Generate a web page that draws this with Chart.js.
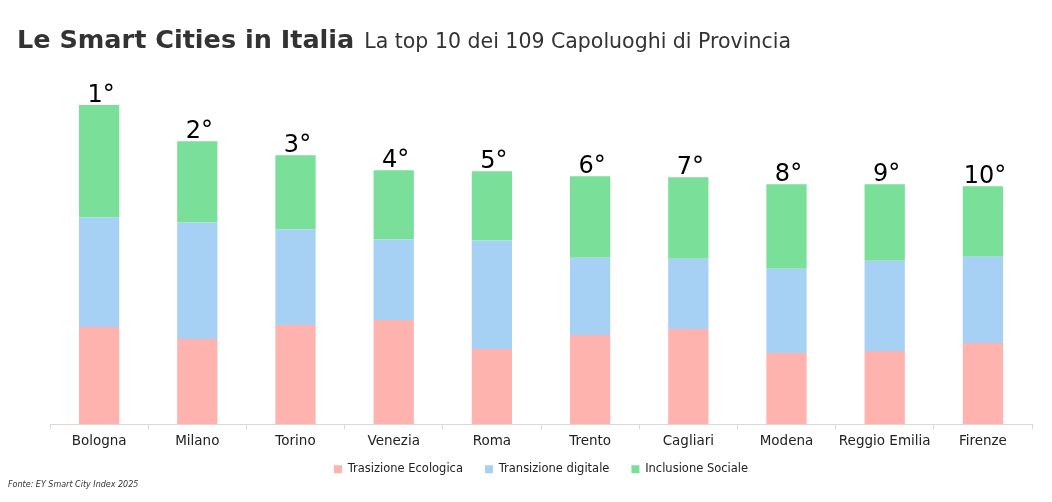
<!DOCTYPE html>
<html>
<head>
<meta charset="utf-8">
<script src="https://cdn.jsdelivr.net/npm/chart.js@4"></script>
<style>
  html, body { margin: 0; padding: 0; background: #fff; }
  #wrap { width: 1052px; height: 502px; }
</style>
</head>
<body>
<div id="wrap"><canvas id="smart_cities"></canvas></div>
<script>
const cities = ['Bologna', 'Milano', 'Torino', 'Venezia', 'Roma', 'Trento', 'Cagliari', 'Modena', 'Reggio Emilia', 'Firenze'];
const ranks = ['1°', '2°', '3°', '4°', '5°', '6°', '7°', '8°', '9°', '10°'];
const ecologica = [97, 85, 99, 104, 75, 89, 95, 71, 73, 81];
const digitale = [109, 116, 95, 80, 108, 77, 70, 84, 90, 86];
const sociale = [112, 81, 74, 69, 69, 81, 81, 84, 76, 70];

const fontFamily = '"DejaVu Sans", Verdana, sans-serif';

// headline, rank labels and source note
const extras = {
    id: 'extras',
    afterLayout(chart) {
        // pull the legend a bit closer to the axis labels
        chart.legend.top -= 12;
        chart.legend.bottom -= 12;
    },
    afterDraw(chart) {
        const ctx = chart.ctx;
        ctx.save();
        ctx.textBaseline = 'alphabetic';
        ctx.textAlign = 'left';
        ctx.fillStyle = '#333333';
        ctx.font = 'bold 25.5px ' + fontFamily;
        ctx.fillText('Le Smart Cities in Italia', 17, 48);
        const w = ctx.measureText('Le Smart Cities in Italia').width;
        ctx.font = '20.5px ' + fontFamily;
        ctx.fillText('La top 10 dei 109 Capoluoghi di Provincia', 17 + w + 10, 48);

        const top = chart.getDatasetMeta(2);
        ctx.fillStyle = '#000';
        ctx.textAlign = 'center';
        ctx.font = '24px ' + fontFamily;
        top.data.forEach((bar, i) => {
            ctx.fillText(ranks[i], bar.x + 2, bar.y - 3);
        });

        ctx.textAlign = 'left';
        ctx.fillStyle = '#333';
        ctx.font = 'italic 8px ' + fontFamily;
        ctx.fillText('Fonte: EY Smart City Index 2025', 8, 487);
        ctx.restore();
    }
};

new Chart(document.getElementById('smart_cities'), {
    type: 'bar',
    data: {
        labels: cities,
        datasets: [
            { label: 'Trasizione Ecologica', data: ecologica, backgroundColor: '#ffb3af' },
            { label: 'Transizione digitale', data: digitale, backgroundColor: '#a6d1f5' },
            { label: 'Inclusione Sociale', data: sociale, backgroundColor: '#7adf98' }
        ]
    },
    options: {
        responsive: true,
        maintainAspectRatio: false,
        animation: false,
        layout: { padding: { top: 93, left: 50, right: 20, bottom: 5 } },
        datasets: { bar: { barPercentage: 0.41, categoryPercentage: 1 } },
        scales: {
            x: {
                stacked: true,
                grid: { display: true, drawOnChartArea: false, tickLength: 5, color: '#d9d9d9' },
                border: { color: '#d9d9d9' },
                ticks: {
                    color: '#222', font: { family: fontFamily, size: 13.5 }, padding: 4,
                    maxRotation: 0, minRotation: 0, autoSkip: false
                }
            },
            y: {
                stacked: true,
                display: false,
                min: 0,
                max: 330
            }
        },
        plugins: {
            legend: {
                position: 'bottom',
                labels: {
                    boxWidth: 8, boxHeight: 8, padding: 22,
                    color: '#222',
                    font: { family: fontFamily, size: 11.5 }
                }
            },
            tooltip: { enabled: false }
        }
    },
    plugins: [extras]
});
</script>
</body>
</html>
